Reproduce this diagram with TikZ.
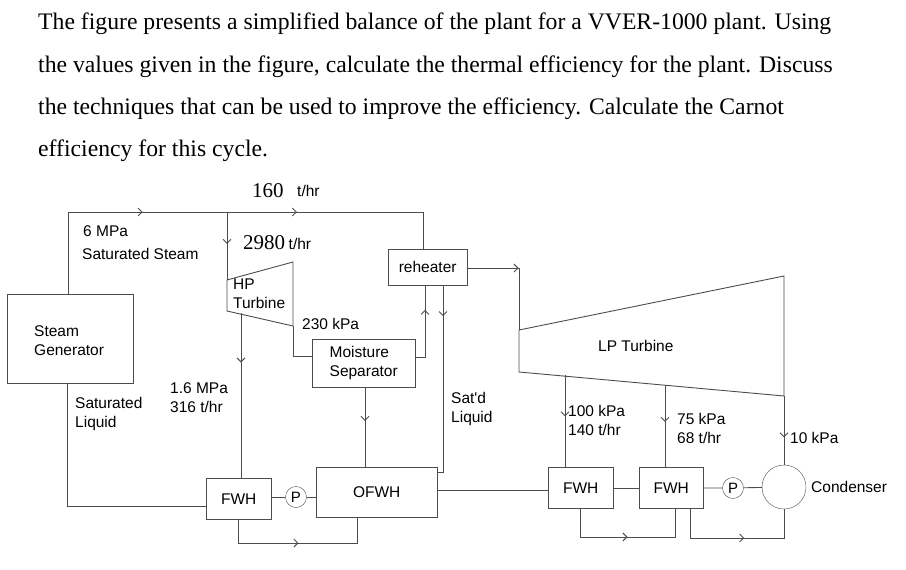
\documentclass[tikz,border=0pt]{standalone}
\usepackage{fontspec}
\setmainfont{Liberation Serif}
\newfontfamily\lbl{Liberation Sans}
\usetikzlibrary{arrows.meta,decorations.markings,shapes.geometric}
\tikzset{
  box/.style={draw=black!70,rectangle,inner sep=0pt,anchor=north west,font=\lbl\fontsize{15.5}{19}\selectfont},
  txt/.style={inner sep=0pt,anchor=base west,font=\lbl\fontsize{15.5}{19}\selectfont,align=left},
  tall/.style={txt,anchor=north west},
  pump/.style={draw=black!70,circle,minimum size=21pt,inner sep=0pt,font=\lbl\fontsize{15}{17}\selectfont},
  pipe/.style={draw=black!70,line width=0.9pt},
  mark/.style={decoration={markings,mark=at position #1 with {\arrow{Straight Barb[length=4pt,width=8pt]}}},postaction=decorate}
}
\begin{document}
\begin{tikzpicture}[x=1pt,y=-1pt]
\useasboundingbox (0,0) rectangle (906,570);
\node[inner sep=0pt,anchor=base west,font=\fontsize{23.7}{26}\selectfont] (q1) at (38,30) {The figure presents a simplified balance of the plant for a VVER-1000 plant. Using};
\node[inner sep=0pt,anchor=base west,font=\fontsize{23.7}{26}\selectfont] (q2) at (38,72) {the values given in the figure, calculate the thermal efficiency for the plant. Discuss};
\node[inner sep=0pt,anchor=base west,font=\fontsize{23.7}{26}\selectfont] (q3) at (38,114) {the techniques that can be used to improve the efficiency. Calculate the Carnot};
\node[inner sep=0pt,anchor=base west,font=\fontsize{23.7}{26}\selectfont] (q4) at (38,156) {efficiency for this cycle.};

% boxes
\node[box,minimum width=126pt,minimum height=89pt] (sg) at (7,294) {};
\node[tall] (sgt) at (34,325) {Steam\\Generator};
\node[box,minimum width=79pt,minimum height=36pt] (rh) at (388,249) {reheater};
\node[box,minimum width=103pt,minimum height=48pt,align=left] (ms) at (312,339) {Moisture\\Separator};
\node[box,minimum width=121pt,minimum height=50pt] (of) at (316,467) {OFWH};
\node[box,minimum width=65pt,minimum height=41pt] (fh1) at (206,478) {FWH};
\node[box,minimum width=65pt,minimum height=41pt] (fh2) at (548,467) {FWH};
\node[box,minimum width=64pt,minimum height=41pt] (fh3) at (639,467) {FWH};
\node[pump] (p1) at (296,497) {P};
\node[pump] (p2) at (733,488) {P};
\node[draw=black!70,circle,minimum size=44pt,inner sep=0pt] (cd) at (784,487) {};
\node[txt] (cdt) at (811,492) {Condenser};

% turbines
\coordinate (hpa) at (227,280); \coordinate (hpb) at (293,262);
\coordinate (hpc) at (293,326); \coordinate (hpd) at (227,311);
\draw[pipe] (hpa) -- (hpb) -- (hpc) -- (hpd) -- cycle;
\node[tall] (hpt) at (233,279) {HP\\Turbine};
\coordinate (lpa) at (519,330); \coordinate (lpb) at (784,276);
\coordinate (lpc) at (784,396); \coordinate (lpd) at (519,372);
\draw[pipe] (lpa) -- (lpb) -- (lpc) -- (lpd) -- cycle;
\node[txt] (lpt) at (598,351) {LP Turbine};

% steam lines
\coordinate (top1) at (68,212); \coordinate (top2) at (227,212); \coordinate (top3) at (423,212);
\draw[pipe,mark=0.65] (sg.north west -| top1) -- (top1) -- (top2);
\draw[pipe,mark=0.3] (top2) -- (top3) -- (rh.north -| top3);
\draw[pipe,mark=0.47] (top2) -- (hpa);
\draw[pipe,mark=0.3] (241,313) -- (fh1.north -| 241,0);
\draw[pipe] (hpc) -- (293,356) -- (ms.west |- 0,356);
\draw[pipe,mark=0.7] (ms.east |- 0,357) -- (425,357) -- (rh.south -| 425,0);
\draw[pipe,mark=0.45] (rh.east |- 0,268) -- (519,268) -- (lpa);
\draw[pipe,mark=0.42] (ms.south -| 365,0) -- (of.north -| 365,0);
\draw[pipe,mark=0.16] (rh.south -| 443,0) -- (443,472) -- (of.east |- 0,472);
\draw[pipe,mark=0.45] (565,375) -- (fh2.north -| 565,0);
\draw[pipe,mark=0.45] (665,385) -- (fh3.north -| 665,0);
\draw[pipe,mark=0.6] (lpc) -- (cd);

% feedwater lines
\draw[pipe] (sg.south -| 67,0) -- (67,506) -- (fh1.west |- 0,506);
\draw[pipe] (fh1.east |- p1) -- (p1) -- (of.west |- p1);
\draw[pipe] (of.east |- 0,490) -- (fh2.west |- 0,490);
\draw[pipe] (fh2.east |- 0,488) -- (fh3.west |- 0,488);
\draw[pipe] (fh3.east |- p2) -- (p2) -- (cd);
\draw[pipe,mark=0.5] (fh1.south -| 238,0) -- (238,543) -- (357,543) -- (of.south -| 357,0);
\draw[pipe,mark=0.5] (fh2.south -| 580,0) -- (580,537) -- (675,537) -- (fh3.south -| 675,0);
\draw[pipe,mark=0.55] (fh3.south -| 690,0) -- (690,538) -- (784,538) -- (cd);

% labels
\node[inner sep=0pt,anchor=base west,font=\fontsize{21}{24}\selectfont] (f160) at (252,197) {160};
\node[txt] (f160u) at (297,196) {t/hr};
\node[txt] (p6) at (83,236) {6 MPa};
\node[txt] (sst) at (82,259) {Saturated Steam};
\node[inner sep=0pt,anchor=base west,font=\fontsize{21}{24}\selectfont] (f2980) at (243,249) {2980\,{\lbl\fontsize{15.5}{19}\selectfont t/hr}};
\node[txt] (p230) at (302,329) {230 kPa};
\node[tall] (p16) at (170,382) {1.6 MPa\\316 t/hr};
\node[tall] (sl) at (75,397) {Saturated\\Liquid};
\node[tall] (sdl) at (451,392) {Sat'd\\Liquid};
\node[tall] (p100) at (568,405) {100 kPa\\140 t/hr};
\node[tall] (p75) at (677,413) {75 kPa\\68 t/hr};
\node[txt] (p10) at (790,443) {10 kPa};
\end{tikzpicture}
\end{document}
